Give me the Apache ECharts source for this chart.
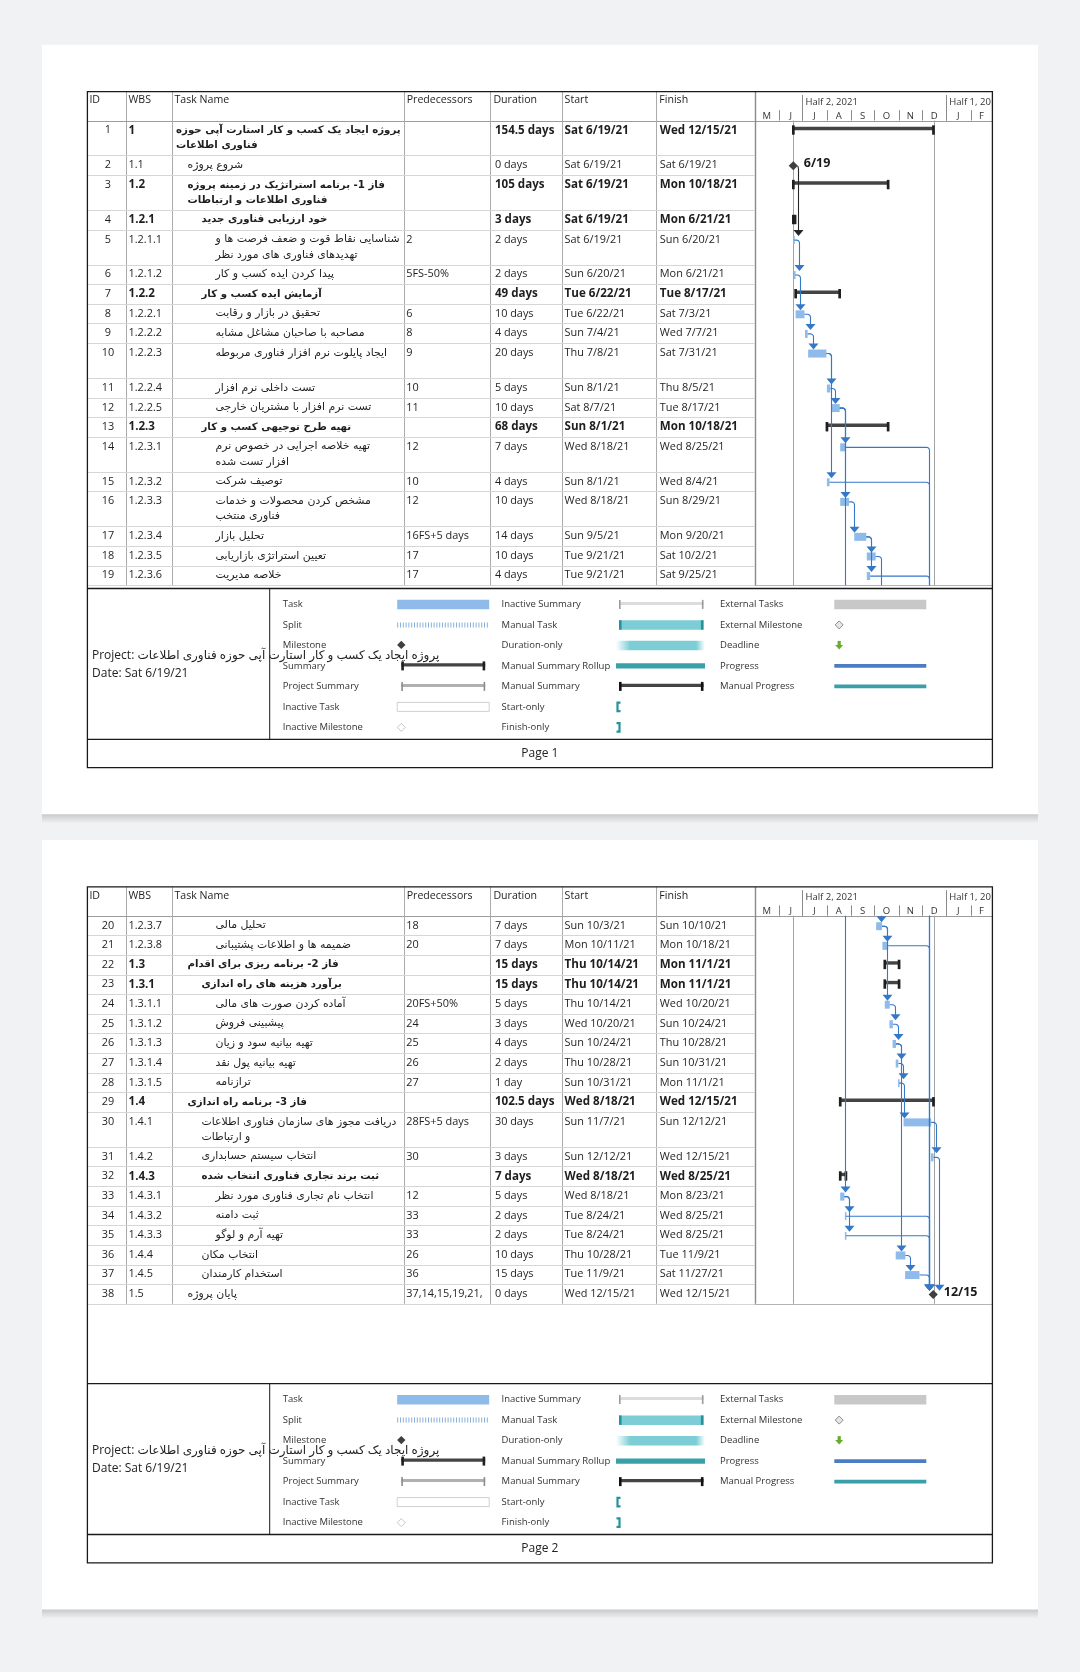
<!DOCTYPE html>
<html><head><meta charset="utf-8">
<script src="https://cdn.jsdelivr.net/npm/echarts@6/dist/echarts.min.js"></script>
<style>html,body{margin:0;padding:0;background:#f1f2f4}#c{width:1080px;height:1672px}</style>
</head><body><div id="c"></div><script>
// ---------------- DATA ----------------
const taskIds = [1,2,3,4,5,6,7,8,9,10,11,12,13,14,15,16,17,18,19,20,21,22,23,24,25,26,27,28,29,30,31,32,33,34,35,36,37,38];
const wbsCodes = ['1','1.1','1.2','1.2.1','1.2.1.1','1.2.1.2','1.2.2','1.2.2.1','1.2.2.2','1.2.2.3','1.2.2.4','1.2.2.5','1.2.3','1.2.3.1','1.2.3.2','1.2.3.3','1.2.3.4','1.2.3.5','1.2.3.6','1.2.3.7','1.2.3.8','1.3','1.3.1','1.3.1.1','1.3.1.2','1.3.1.3','1.3.1.4','1.3.1.5','1.4','1.4.1','1.4.2','1.4.3','1.4.3.1','1.4.3.2','1.4.3.3','1.4.4','1.4.5','1.5'];
const taskNames = [
 'پروژه ایجاد یک کسب و کار استارت آپی حوزه\nفناوری اطلاعات',
 'شروع پروژه',
 'فاز 1- برنامه استراتژیک در زمینه پروژه\nفناوری اطلاعات و ارتباطات',
 'خود ارزیابی فناوری جدید',
 'شناسایی نقاط قوت و ضعف فرصت ها و\nتهدیدهای فناوری های مورد نظر',
 'پیدا کردن ایده کسب و کار',
 'آزمایش ایده کسب و کار',
 'تحقیق در بازار و رقابت',
 'مصاحبه با صاحبان مشاغل مشابه',
 'ایجاد پایلوت نرم افزار فناوری مربوطه\n',
 'تست داخلی نرم افزار',
 'تست نرم افزار با مشتریان خارجی',
 'تهیه طرح توجیهی کسب و کار',
 'تهیه خلاصه اجرایی در خصوص نرم\nافزار تست شده',
 'توصیف شرکت',
 'مشخص کردن محصولات و خدمات\nفناوری منتخب',
 'تحلیل بازار',
 'تعیین استراتژی بازاریابی',
 'خلاصه مدیریت',
 'تحلیل مالی',
 'ضمیمه ها و اطلاعات پشتیبانی',
 'فاز 2- برنامه ریزی برای اقدام',
 'برآورد هزینه های راه اندازی',
 'آماده کردن صورت های مالی',
 'پیشبینی فروش',
 'تهیه بیانیه سود و زیان',
 'تهیه بیانیه پول نقد',
 'ترازنامه',
 'فاز 3- برنامه راه اندازی',
 'دریافت مجوز های سازمان فناوری اطلاعات\nو ارتباطات',
 'انتخاب سیستم حسابداری',
 'ثبت برند تجاری فناوری انتخاب شده',
 'انتخاب نام تجاری فناوری مورد نظر',
 'ثبت دامنه',
 'تهیه آرم و لوگو',
 'انتخاب مکان',
 'استخدام کارمندان',
 'پایان پروژه'
];
const predecessors = ['','','','','2','5FS-50%','','6','8','9','10','11','','12','10','12','16FS+5 days','17','17','18','20','','','20FS+50%','24','25','26','27','','28FS+5 days','30','','12','33','33','26','36','37,14,15,19,21,31,34,35'];
const durations = ['154.5 days','0 days','105 days','3 days','2 days','2 days','49 days','10 days','4 days','20 days','5 days','10 days','68 days','7 days','4 days','10 days','14 days','10 days','4 days','7 days','7 days','15 days','15 days','5 days','3 days','4 days','2 days','1 day','102.5 days','30 days','3 days','7 days','5 days','2 days','2 days','10 days','15 days','0 days'];
const startDates = ['Sat 6/19/21','Sat 6/19/21','Sat 6/19/21','Sat 6/19/21','Sat 6/19/21','Sun 6/20/21','Tue 6/22/21','Tue 6/22/21','Sun 7/4/21','Thu 7/8/21','Sun 8/1/21','Sat 8/7/21','Sun 8/1/21','Wed 8/18/21','Sun 8/1/21','Wed 8/18/21','Sun 9/5/21','Tue 9/21/21','Tue 9/21/21','Sun 10/3/21','Mon 10/11/21','Thu 10/14/21','Thu 10/14/21','Thu 10/14/21','Wed 10/20/21','Sun 10/24/21','Thu 10/28/21','Sun 10/31/21','Wed 8/18/21','Sun 11/7/21','Sun 12/12/21','Wed 8/18/21','Wed 8/18/21','Tue 8/24/21','Tue 8/24/21','Thu 10/28/21','Tue 11/9/21','Wed 12/15/21'];
const finishDates = ['Wed 12/15/21','Sat 6/19/21','Mon 10/18/21','Mon 6/21/21','Sun 6/20/21','Mon 6/21/21','Tue 8/17/21','Sat 7/3/21','Wed 7/7/21','Sat 7/31/21','Thu 8/5/21','Tue 8/17/21','Mon 10/18/21','Wed 8/25/21','Wed 8/4/21','Sun 8/29/21','Mon 9/20/21','Sat 10/2/21','Sat 9/25/21','Sun 10/10/21','Mon 10/18/21','Mon 11/1/21','Mon 11/1/21','Wed 10/20/21','Sun 10/24/21','Thu 10/28/21','Sun 10/31/21','Mon 11/1/21','Wed 12/15/21','Sun 12/12/21','Wed 12/15/21','Wed 8/25/21','Mon 8/23/21','Wed 8/25/21','Wed 8/25/21','Tue 11/9/21','Sat 11/27/21','Wed 12/15/21'];
const pageFirstId = [1, 20];
const pageLabels = ['Page 1', 'Page 2'];
const headerLabels = ['ID','WBS','Task Name','Predecessors','Duration','Start','Finish'];
const monthStarts = ['2021-05-01','2021-06-01','2021-07-01','2021-08-01','2021-09-01','2021-10-01','2021-11-01','2021-12-01','2022-01-01','2022-02-01'];
const monthLetters = ['M','J','J','A','S','O','N','D','J','F'];
const halfStarts = ['2021-07-01','2022-01-01'];
const halfLabels = ['Half 2, 2021','Half 1, 2022'];
const timeRange = ['2021-05-01','2022-03-01'];
const projectTitle = 'پروژه ایجاد یک کسب و کار استارت آپی حوزه فناوری اطلاعات';
const projectDate = 'Sat 6/19/21';
const legendCol1 = ['Task','Split','Milestone','Summary','Project Summary','Inactive Task','Inactive Milestone'];
const legendCol2 = ['Inactive Summary','Manual Task','Duration-only','Manual Summary Rollup','Manual Summary','Start-only','Finish-only'];
const legendCol3 = ['External Tasks','External Milestone','Deadline','Progress','Manual Progress'];

// ---------------- LAYOUT ----------------
const PITCH = 795.2;
const FR = {x0:87.4, x1:992.4, top:91.7, headBot:120.5, legTop:588.5, legBot:739.3, bot:767.7, legDiv:269.7};
const COLS = [87.4,125.5,171.5,403.7,490.4,561.6,656.3,754.7];
const INDENT = [176, 187.5, 201.5, 215.5];
const HEAD_H = FR.headBot - FR.top;
const ROW_H = 19.62, LINE_H = 15.32;
const LATIN = '"Open Sans", "DejaVu Sans", sans-serif';
const FA = '"DejaVu Sans", sans-serif';
const TXT = '#1e1e1e';
const HOUR = 3600e3;

function parseUS(s){ const m = s.match(/(\d+)\/(\d+)\/(\d+)/); return new Date(2000 + (+m[3]), (+m[1]) - 1, +m[2]).getTime(); }
function parseISO(s){ const m = s.split('-'); return new Date(+m[0], (+m[1]) - 1, +m[2]).getTime(); }
const AX_MIN = parseISO(timeRange[0]), AX_MAX = parseISO(timeRange[1]);
const monthTs = monthStarts.map(parseISO);
const halfTs = halfStarts.map(parseISO);

const tasks = taskIds.map((id, i) => ({
  id, wbs: wbsCodes[i], name: taskNames[i], pred: predecessors[i], dur: durations[i],
  startTxt: startDates[i], finishTxt: finishDates[i],
  t0: parseUS(startDates[i]) + 8 * HOUR, t1: parseUS(finishDates[i]) + 17 * HOUR,
  level: wbsCodes[i].split('.').length,
  summary: i + 1 < taskIds.length && wbsCodes[i + 1].indexOf(wbsCodes[i] + '.') === 0,
  milestone: /^0 day/.test(durations[i]),
  lines: taskNames[i].split('\n')
}));
const rowInfo = []; const pageHeights = pageFirstId.map(() => 0);
tasks.forEach(t => {
  let p = 0; pageFirstId.forEach((f, k) => { if (t.id >= f) p = k; });
  const h = ROW_H + (t.lines.length - 1) * LINE_H;
  rowInfo.push({page: p, top: pageHeights[p], h});
  pageHeights[p] += h;
});
const links = [];
tasks.forEach(t => {
  t.pred.split(',').forEach(s => { const n = parseInt(s, 10); if (!isNaN(n)) links.push({from: n, to: t.id}); });
});
function shortDate(s){ const d = s.split(' ')[1].split('/'); return d[0] + '/' + d[1]; }
const crisp = v => Math.round(v) + 0.5;

// ---------------- RENDERERS ----------------
function txt(x, y, s, o){
  return {type:'text', x, y, silent:true, style:Object.assign({text:s, fill:TXT, fontSize:10.9, fontFamily:LATIN, fontWeight:'normal', align:'left', verticalAlign:'middle'}, o || {})};
}
function headerRender(params, api){
  const c = api.value(0), cs = params.coordSys;
  const top = cs.y - HEAD_H, bot = cs.y + cs.height;
  const X = v => api.coord([v - COLS[0], 0])[0];
  const ch = [];
  ch.push(txt(X(COLS[c]) + (c === 0 ? 2 : 3), top + 8.6, headerLabels[c], {fontSize:10.6}));
  const xl = crisp(X(COLS[c + 1]));
  ch.push({type:'line', shape:{x1:xl, y1:top, x2:xl, y2:bot}, style:{stroke: c === 6 ? '#8a8a8a' : '#ababab', lineWidth: c === 6 ? 1.4 : 1}});
  if (c === 0) {
    const full = cs.x + cs.width + (FR.x1 - COLS[7]);
    ch.push({type:'line', shape:{x1:cs.x, y1:crisp(cs.y), x2:full, y2:crisp(cs.y)}, style:{stroke:'#9c9c9c', lineWidth:1.2}});
    ch.push({type:'line', shape:{x1:cs.x, y1:crisp(bot), x2:full, y2:crisp(bot)}, style:{stroke:'#b4b4b4', lineWidth:1}});
  }
  return {type:'group', children:ch};
}
function rowRender(params, api){
  const i = api.value(0), t = tasks[i], r = rowInfo[i];
  const X = v => api.coord([v - COLS[0], r.top])[0];
  const yTop = api.coord([0, r.top])[1];
  const yBot = api.coord([0, r.top + r.h])[1];
  const bold = t.summary;
  const B = bold ? {fontWeight:'bold', fontSize:11.6} : {};
  const ly = k => yTop + 9.8 + k * LINE_H;
  const ch = [];
  ch.push({type:'line', shape:{x1:X(COLS[0]), y1:crisp(yBot), x2:X(COLS[7]), y2:crisp(yBot)}, style:{stroke:'#d6d6d6', lineWidth:1}});
  ch.push(txt(X(COLS[0]) + 20.5, ly(0), String(t.id), {align:'center'}));
  ch.push(txt(X(COLS[1]) + 3, ly(0), t.wbs, B));
  const nx = X(INDENT[Math.min(t.level, INDENT.length) - 1]);
  t.lines.forEach((s, k) => { if (s) ch.push(txt(nx, ly(k), s, {fontFamily:FA, fontSize: bold ? 10.2 : 10.9, fontWeight: bold ? 'bold' : 'normal'})); });
  if (t.pred) ch.push(txt(X(COLS[3]) + 2.5, ly(0), t.pred, {width: COLS[4] - COLS[3] - 7, overflow:'truncate', ellipsis:''}));
  ch.push(txt(X(COLS[4]) + 4.5, ly(0), t.dur, B));
  ch.push(txt(X(COLS[5]) + 3, ly(0), t.startTxt, B));
  ch.push(txt(X(COLS[6]) + 3.5, ly(0), t.finishTxt, B));
  return {type:'group', children:ch};
}
function monthRender(params, api){
  const k = api.value(0), cs = params.coordSys, top = cs.y - HEAD_H;
  const xs = api.coord([monthTs[k], 0])[0];
  const xe = api.coord([k + 1 < monthTs.length ? monthTs[k + 1] : AX_MAX, 0])[0];
  const ch = [txt((xs + xe) / 2, top + 24.6, monthLetters[k], {fontSize:9.5, align:'center', fill:'#333'})];
  if (k > 0) ch.push({type:'line', shape:{x1:crisp(xs), y1:top + 18.5, x2:crisp(xs), y2:top + HEAD_H}, style:{stroke:'#8a8a8a', lineWidth:1}});
  return {type:'group', children:ch};
}
function halfRender(params, api){
  const k = api.value(0), cs = params.coordSys, top = cs.y - HEAD_H;
  const x = api.coord([halfTs[k], 0])[0];
  return {type:'group', children:[
    {type:'line', shape:{x1:crisp(x), y1:top + 3.3, x2:crisp(x), y2:top + HEAD_H}, style:{stroke:'#8a8a8a', lineWidth:1}},
    txt(x + 3, top + 10.6, halfLabels[k], {fontSize:9.5, fill:'#333', width: cs.x + cs.width - x + 1, overflow:'truncate', ellipsis:''})
  ]};
}
function projLineRender(params, api){
  const cs = params.coordSys;
  const x = crisp(api.coord([api.value(0), 0])[0]);
  return {type:'line', shape:{x1:x, y1:cs.y, x2:x, y2:cs.y + cs.height}, style:{stroke:'#a3a3a3', lineWidth:1}};
}
function ganttRender(params, api){
  const i = api.value(0), t = tasks[i], r = rowInfo[i];
  const X = tt => api.coord([tt, r.top])[0];
  const y0 = api.coord([AX_MIN, r.top])[1];
  if (t.milestone) {
    const cx = X(t.t0), cy = y0 + 10.3, d = 4.6;
    return {type:'group', children:[
      {type:'polygon', shape:{points:[[cx, cy - d],[cx + d, cy],[cx, cy + d],[cx - d, cy]]}, style:{fill:'#404040'}},
      txt(cx + 10.5, y0 + 8.4, shortDate(t.finishTxt), {fontSize:12.5, fontWeight:'bold', fill:'#1a1a1a'})
    ]};
  }
  const x0 = X(t.t0), x1 = X(t.t1);
  if (t.summary) {
    return {type:'group', children:[
      {type:'rect', shape:{x:x0, y:y0 + 6.3, width:x1 - x0, height:3.4}, style:{fill:'#444'}},
      {type:'rect', shape:{x:x0 - 1.3, y:y0 + 4.8, width:2.7, height:9.4}, style:{fill:'#1f1f1f'}},
      {type:'rect', shape:{x:x1 - 1.4, y:y0 + 4.8, width:2.7, height:9.4}, style:{fill:'#1f1f1f'}}
    ]};
  }
  return {type:'rect', shape:{x:x0, y:y0 + 6.5, width:Math.max(x1 - x0, 1.5), height:8}, style:{fill:'#8ebbe9'}};
}
function makeLinkRender(p){
  return function(params, api){
    const L = links[api.value(0)];
    const a = tasks[L.from - 1], b = tasks[L.to - 1];
    const ra = rowInfo[L.from - 1], rb = rowInfo[L.to - 1];
    if (ra.page > p || rb.page < p) return null;
    const cs = params.coordSys;
    const X = tt => api.coord([tt, 0])[0];
    const Y = v => api.coord([AX_MIN, v])[1];
    const xa = a.milestone ? X(a.t0) + 4.6 : X(a.t1);
    const xb = b.milestone ? X(b.t0) - 4.5 : X(b.t0);
    const vx = crisp(a.milestone ? xa : Math.max(xa + 5, xb));
    const color = a.milestone ? '#262626' : '#3578c8';
    const yA = ra.page === p ? Y(ra.top + 10.5) : cs.y;
    const yB = rb.page === p ? Y(rb.top + 6.5) : cs.y + cs.height;
    const rad = 3, pts = [];
    if (ra.page === p) {
      pts.push([xa, yA]);
      if (vx - xa > rad) {
        pts.push([vx - rad, yA]);
        for (let k = 1; k <= 3; k++) { const g = k / 4 * Math.PI / 2; pts.push([vx - rad + rad * Math.sin(g), yA + rad - rad * Math.cos(g)]); }
      }
      pts.push([vx, yA + rad]);
    } else pts.push([vx, yA]);
    const arrow = rb.page === p;
    pts.push([vx, arrow ? yB - 5 : yB]);
    const ch = [{type:'polyline', shape:{points:pts}, style:{stroke:color, lineWidth:1.1, fill:null}}];
    if (arrow) ch.push({type:'polygon', shape:{points:[[vx - 5, yB - 6],[vx + 5, yB - 6],[vx, yB]]}, style:{fill:color}});
    return {type:'group', children:ch};
  };
}

// ---------------- OPTION ----------------
const grid = [], xAxis = [], yAxis = [], series = [];
pageFirstId.forEach((f, p) => {
  const top = FR.headBot + p * PITCH, h = pageHeights[p];
  const gi = grid.length;
  grid.push({left:COLS[0], top, width:COLS[7] - COLS[0], height:h});
  grid.push({left:COLS[7], top, width:FR.x1 - COLS[7], height:h});
  xAxis.push({type:'value', gridIndex:gi, min:0, max:COLS[7] - COLS[0], show:false});
  xAxis.push({type:'time', gridIndex:gi + 1, min:AX_MIN, max:AX_MAX, show:false});
  yAxis.push({type:'value', gridIndex:gi, min:0, max:h, inverse:true, show:false});
  yAxis.push({type:'value', gridIndex:gi + 1, min:0, max:h, inverse:true, show:false});
  const rows = tasks.map((t, i) => i).filter(i => rowInfo[i].page === p).map(i => [i]);
  const T = {xAxisIndex:gi, yAxisIndex:gi}, G = {xAxisIndex:gi + 1, yAxisIndex:gi + 1};
  series.push(Object.assign({type:'custom', name:'header' + p, renderItem:headerRender, data:headerLabels.map((s, c) => [c]), silent:true, z:3}, T));
  series.push(Object.assign({type:'custom', name:'rows' + p, renderItem:rowRender, data:rows, silent:true, z:3}, T));
  series.push(Object.assign({type:'custom', name:'months' + p, renderItem:monthRender, data:monthLetters.map((s, k) => [k]), silent:true, z:3}, G));
  series.push(Object.assign({type:'custom', name:'halves' + p, renderItem:halfRender, data:halfLabels.map((s, k) => [k]), silent:true, z:3}, G));
  series.push(Object.assign({type:'custom', name:'projLines' + p, renderItem:projLineRender, data:[[tasks[0].t0], [tasks[0].t1]], silent:true, z:3}, G));
  series.push(Object.assign({type:'custom', name:'bars' + p, renderItem:ganttRender, data:rows, silent:true, z:4}, G));
  series.push(Object.assign({type:'custom', name:'links' + p, renderItem:makeLinkRender(p), data:links.map((l, k) => [k]), silent:true, z:5}, G));
});

// page decoration + legend
const graphic = [];
function gtext(x, y, s, o){ return {type:'text', x, y, z:6, silent:true, style:Object.assign({text:s, fill:'#333', fontSize:9.5, fontFamily:LATIN, align:'left', verticalAlign:'middle'}, o || {})}; }
function grect(x, y, w, h, fill, o){ return Object.assign({type:'rect', z:6, silent:true, shape:{x, y, width:w, height:h}, style:{fill}}, o || {}); }
function gdiamond(cx, cy, d, style){ return {type:'polygon', z:6, silent:true, shape:{points:[[cx, cy - d],[cx + d, cy],[cx, cy + d],[cx - d, cy]]}, style}; }
function barWithCaps(x0, x1, cy, lineCol, capCol, lh, capW){
  return [grect(x0, cy - lh / 2 - 1, x1 - x0, lh, lineCol), grect(x0, cy - 4.5, capW, 9, capCol), grect(x1 - capW, cy - 4.5, capW, 9, capCol)];
}
pageLabels.forEach((lbl, p) => {
  const oy = p * PITCH;
  graphic.push({type:'rect', z:-5, silent:true, shape:{x:42, y:44.8 + oy, width:996, height:769.5}, style:{fill:'#ffffff'}});
  graphic.push({type:'rect', z:-5, silent:true, shape:{x:42, y:814.3 + oy, width:996, height:9},
    style:{fill:new echarts.graphic.LinearGradient(0, 0, 0, 1, [{offset:0, color:'rgba(0,0,0,0.17)'}, {offset:1, color:'rgba(0,0,0,0)'}])}});
  const frameStyle = {stroke:'#1a1a1a', lineWidth:1.3, fill:null};
  graphic.push({type:'rect', z:10, silent:true, shape:{x:FR.x0, y:FR.top + oy, width:FR.x1 - FR.x0, height:FR.bot - FR.top}, style:frameStyle});
  graphic.push({type:'line', z:10, silent:true, shape:{x1:FR.x0, y1:FR.legTop + oy, x2:FR.x1, y2:FR.legTop + oy}, style:frameStyle});
  graphic.push({type:'line', z:10, silent:true, shape:{x1:FR.x0, y1:FR.legBot + oy, x2:FR.x1, y2:FR.legBot + oy}, style:frameStyle});
  graphic.push({type:'line', z:10, silent:true, shape:{x1:FR.legDiv, y1:FR.legTop + oy, x2:FR.legDiv, y2:FR.legBot + oy}, style:{stroke:'#1a1a1a', lineWidth:1}});
  graphic.push(gtext(92, 655.7 + oy, 'Project: ' + projectTitle, {fontSize:12, fill:'#222', fontFamily:LATIN}));
  graphic.push(gtext(92, 673.6 + oy, 'Date: ' + projectDate, {fontSize:12, fill:'#222'}));
  graphic.push(gtext((FR.x0 + FR.x1) / 2, (FR.legBot + FR.bot) / 2 + oy, lbl, {fontSize:12, fill:'#222', align:'center'}));
  const ly = k => 604.4 + k * 20.5 + oy;
  legendCol1.forEach((s, k) => graphic.push(gtext(282.8, ly(k), s)));
  legendCol2.forEach((s, k) => graphic.push(gtext(501.6, ly(k), s)));
  legendCol3.forEach((s, k) => graphic.push(gtext(720, ly(k), s)));
  // column 1 samples
  graphic.push(grect(397.2, ly(0) - 4.7, 92, 9.5, '#8ebbe9'));
  graphic.push({type:'line', z:6, silent:true, shape:{x1:397.2, y1:ly(1), x2:489.2, y2:ly(1)}, style:{stroke:'#86aed8', lineWidth:5, lineDash:[1, 1.8]}});
  graphic.push(gdiamond(401.3, ly(2) - 0.5, 4.2, {fill:'#404040'}));
  barWithCaps(401.3, 485.2, ly(3), '#444', '#1f1f1f', 3.4, 2.6).forEach(e => graphic.push(e));
  barWithCaps(401.3, 485.2, ly(4), '#b0b0b0', '#8c8c8c', 3, 1.6).forEach(e => graphic.push(e));
  graphic.push(grect(397.2, ly(5) - 4.5, 92, 9, '#ffffff', {style:{fill:'#fff', stroke:'#d0d0d0', lineWidth:1}}));
  graphic.push(gdiamond(401.3, ly(6), 4, {fill:'#fff', stroke:'#c8c8c8', lineWidth:1}));
  // column 2 samples
  barWithCaps(619, 703.5, ly(0), '#dcdcdc', '#9a9a9a', 3, 1.6).forEach(e => graphic.push(e));
  graphic.push(grect(619, ly(1) - 4.7, 84.5, 9.5, '#7ccdd5'));
  graphic.push(grect(619, ly(1) - 4.7, 2.6, 9.5, '#26939c'));
  graphic.push(grect(700.9, ly(1) - 4.7, 2.6, 9.5, '#26939c'));
  graphic.push(grect(616, ly(2) - 4.7, 89, 9.5, new echarts.graphic.LinearGradient(0, 0, 1, 0, [
    {offset:0, color:'rgba(124,205,213,0)'}, {offset:0.16, color:'rgba(124,205,213,1)'}, {offset:0.9, color:'rgba(124,205,213,1)'}, {offset:1, color:'rgba(124,205,213,0)'}])));
  graphic.push(grect(616, ly(3) - 2.6, 89, 5.2, '#3aa0a8'));
  barWithCaps(619, 703.5, ly(4), '#444', '#111', 3.4, 2.6).forEach(e => graphic.push(e));
  graphic.push({type:'polyline', z:6, silent:true, shape:{points:[[620.5, ly(5) - 4.2],[617.5, ly(5) - 4.2],[617.5, ly(5) + 4.2],[620.5, ly(5) + 4.2]]}, style:{stroke:'#26939c', lineWidth:2.2, fill:null}});
  graphic.push({type:'polyline', z:6, silent:true, shape:{points:[[616.5, ly(6) - 4.2],[619.5, ly(6) - 4.2],[619.5, ly(6) + 4.2],[616.5, ly(6) + 4.2]]}, style:{stroke:'#26939c', lineWidth:2.2, fill:null}});
  // column 3 samples
  graphic.push(grect(834.3, ly(0) - 4.7, 92, 9.5, '#c8c8c8'));
  graphic.push(gdiamond(839.2, ly(1), 4, {fill:'#e6e6e6', stroke:'#8c8c8c', lineWidth:1}));
  graphic.push(grect(837.6, ly(2) - 4.5, 3.2, 4.5, '#6aab2e'));
  graphic.push({type:'polygon', z:6, silent:true, shape:{points:[[835.2, ly(2) - 0.5],[843.2, ly(2) - 0.5],[839.2, ly(2) + 4]]}, style:{fill:'#6aab2e'}});
  graphic.push(grect(834.3, ly(3) - 1.8, 92, 3.6, '#4a7dc4'));
  graphic.push(grect(834.3, ly(4) - 1.8, 92, 3.6, '#3a9fa8'));
});

const chart = echarts.init(document.getElementById('c'), null, {renderer:'canvas', width:1080, height:1672});
chart.setOption({
  backgroundColor:'#f1f2f4',
  animation:false,
  grid, xAxis, yAxis, series, graphic
});
</script></body></html>
